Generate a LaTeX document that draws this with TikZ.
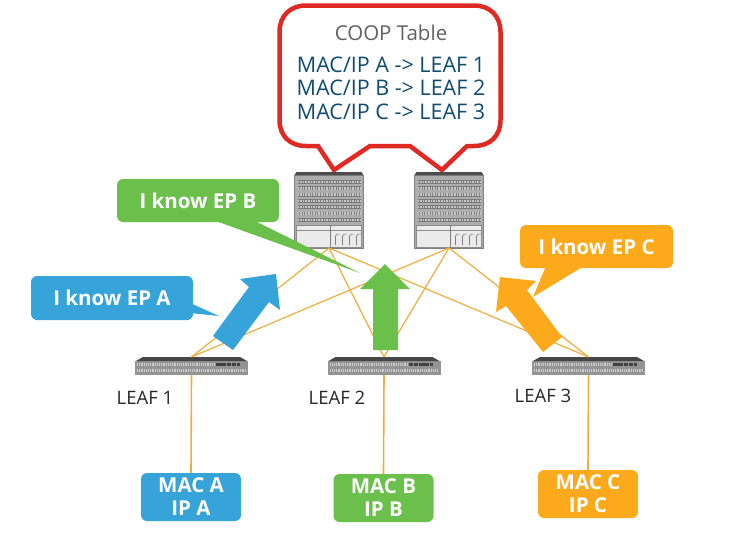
\documentclass[tikz,border=0pt]{standalone}
\usepackage{fontspec}
\setmainfont{Open Sans}
\usetikzlibrary{positioning}
\definecolor{epblue}{HTML}{36A3D9}
\definecolor{epgreen}{HTML}{6BBF4B}
\definecolor{eporange}{HTML}{FDA91C}
\definecolor{linkline}{HTML}{F0AD3C}
\definecolor{balloonred}{HTML}{DE2A23}
\definecolor{tabletext}{HTML}{0F4C70}
\tikzset{
  callout/.style={rounded corners=6pt,minimum height=43pt,text=white,font=\fontsize{20.5}{24}\selectfont\bfseries,inner sep=0pt},
  hostbox/.style={rounded corners=6pt,minimum width=100pt,minimum height=48pt,text=white,align=center,font=\fontsize{20.5}{23}\selectfont\bfseries,inner sep=0pt},
  spinebox/.style={draw=black!50,fill=black!32,line width=1pt,minimum width=69pt,minimum height=73pt,inner sep=0pt,outer sep=0pt},
  leafbox/.style={fill=black!42,minimum width=113pt,minimum height=14pt,inner sep=0pt,outer sep=0pt},
  leaflabel/.style={text=black!85,font=\fontsize{18.5}{22}\selectfont},
  tablerow/.style={text=tabletext,font=\fontsize{21.5}{24}\selectfont},
  link/.style={draw=linkline,line width=1.2pt},
  stem/.style={draw=linkline,line width=1.6pt}
}
% chassis with ports, drawn around a named node
\newcommand{\spinedetail}[1]{
  \fill[black!70] (#1.north west) -- ([xshift=2pt,yshift=3pt]#1.north west) -- ([xshift=-2pt,yshift=3pt]#1.north east) -- (#1.north east) -- cycle;
  \foreach \row in {0,...,6}{
    \draw[black!52,line width=3.8pt] ([xshift=3pt,yshift=-7pt-6.3pt*\row]#1.north west) -- ([xshift=-3pt,yshift=-7pt-6.3pt*\row]#1.north east);
    \draw[white!78!black,line width=2.4pt,dash pattern=on 1.7pt off 0.9pt] ([xshift=3pt,yshift=-7pt-6.3pt*\row]#1.north west) -- ([xshift=-3pt,yshift=-7pt-6.3pt*\row]#1.north east);
  }
  \fill[black!8,draw=black!45,line width=.6pt] ([xshift=2pt,yshift=1pt]#1.south west) rectangle ([xshift=-2pt,yshift=23pt]#1.south east);
  \draw[black!45,line width=.6pt] ([xshift=2pt,yshift=18pt]#1.south west) -- ([xshift=-2pt,yshift=18pt]#1.south east);
  \draw[black!50,line width=1pt] ([xshift=36pt,yshift=1pt]#1.south west) -- ([xshift=36pt,yshift=23pt]#1.south west);
  \foreach \slot in {0,...,3}{
    \draw[black!50,line width=.6pt] ([xshift=41pt+7pt*\slot,yshift=3pt]#1.south west) -- ++(0,9pt) to[bend left=40] ++(4pt,2pt);
  }
}
\newcommand{\leafdetail}[1]{
  \fill[black!72] ([xshift=1pt]#1.north west) -- ([xshift=8pt,yshift=4pt]#1.north west) -- ([xshift=-8pt,yshift=4pt]#1.north east) -- ([xshift=-1pt]#1.north east) -- cycle;
  \foreach \row in {3.5pt,9.5pt}{
    \draw[white!80!black,line width=3pt,dash pattern=on 1.2pt off 1pt] ([xshift=2pt,yshift=-\row]#1.north west) -- ([xshift=-32pt,yshift=-\row]#1.north east);
  }
  \draw[white!80!black,line width=3pt,dash pattern=on 1.2pt off 1pt] ([xshift=-32pt,yshift=-9.5pt]#1.north east) -- ([xshift=-2pt,yshift=-9.5pt]#1.north east);
  \draw[black!75,line width=3.5pt,dash pattern=on 4.5pt off .8pt] ([xshift=-32pt,yshift=-3.5pt]#1.north east) -- ([xshift=-8pt,yshift=-3.5pt]#1.north east);
}
\begin{document}
\begin{tikzpicture}[x=1pt,y=-1pt]
  \useasboundingbox (0,0) rectangle (729,547);

  % COOP balloon
  \draw[balloonred,line width=4.5pt,fill=white,line join=miter]
    (306,5.5) -- (474,5.5) .. controls (490,5.5) and (500.5,16) .. (500.5,32)
    -- (500.5,120) .. controls (500.5,136) and (490,146) .. (474,146)
    -- (467,146) -- (442,170) -- (410,146) -- (370,146) -- (334,170) -- (318,146)
    -- (306,146) .. controls (290,146) and (279.5,136) .. (279.5,120)
    -- (279.5,32) .. controls (279.5,16) and (290,5.5) .. (306,5.5) -- cycle;
  \node[text=black!62,font=\fontsize{20.5}{24}\selectfont] (cooptitle) at (391,33) {COOP Table};
  \node[tablerow] (rowa) at (391,65) {MAC/IP A -> LEAF 1};
  \node[tablerow] (rowb) at (391,88) {MAC/IP B -> LEAF 2};
  \node[tablerow] (rowc) at (391,112) {MAC/IP C -> LEAF 3};

  % spines
  \node[spinebox] (spine1) at (329,211.5) {};
  \node[spinebox] (spine2) at (449,211.5) {};
  \spinedetail{spine1}
  \spinedetail{spine2}

  % leaves
  \node[leafbox] (leaf1) at (191.5,368) {};
  \node[leafbox] (leaf2) at (384,368) {};
  \node[leafbox] (leaf3) at (588.5,368) {};
  \leafdetail{leaf1}
  \leafdetail{leaf2}
  \leafdetail{leaf3}
  \coordinate (top1) at (191.5,357);
  \coordinate (top2) at (384,357);
  \coordinate (top3) at (588.5,357);

  \node[leaflabel] (name1) at (145,398) {LEAF 1};
  \node[leaflabel] (name2) at (337,398) {LEAF 2};
  \node[leaflabel] (name3) at (543,396) {LEAF 3};

  % hosts
  \node[hostbox,fill=epblue] (hosta) at (191,497) {MAC A\\IP A};
  \node[hostbox,fill=epgreen] (hostb) at (383.5,498) {MAC B\\IP B};
  \node[hostbox,fill=eporange] (hostc) at (588,494) {MAC C\\IP C};

  % links
  \foreach \s in {1,2}{
    \foreach \l in {1,2,3}{
      \draw[link] (spine\s.south) -- (top\l);
    }
  }
  \draw[stem] (leaf1.south) -- (hosta.north);
  \draw[stem] (leaf2.south) -- (hostb.north);
  \draw[stem] (leaf3.south) -- (hostc.north);

  % big arrows
  \fill[epblue] (213,336) -- (249,287) -- (240,279) -- (276,274) -- (280,310) -- (269,302) -- (233,350) -- cycle;
  \fill[epgreen] (373,350) -- (373,289) -- (360,289) -- (385,264) -- (410,289) -- (398,289) -- (398,350) -- cycle;
  \fill[eporange] (543,352) -- (506,306) -- (496,312) -- (500,277) -- (536,281) -- (527,290) -- (562,337) -- cycle;

  % callouts
  \fill[epblue] (190,303) -- (219,316) -- (190,313) -- cycle;
  \node[callout,fill=epblue,minimum width=162pt,minimum height=44pt] (knowa) at (112,298) {I know EP A};
  \fill[epgreen] (213,220) -- (253,220) -- (360,273) -- cycle;
  \node[callout,fill=epgreen,minimum width=162pt] (knowb) at (198,200.5) {I know EP B};
  \fill[eporange] (546,266) -- (584,266) -- (533,297) -- cycle;
  \node[callout,fill=eporange,minimum width=153pt] (knowc) at (596.5,246.5) {I know EP C};
\end{tikzpicture}
\end{document}
